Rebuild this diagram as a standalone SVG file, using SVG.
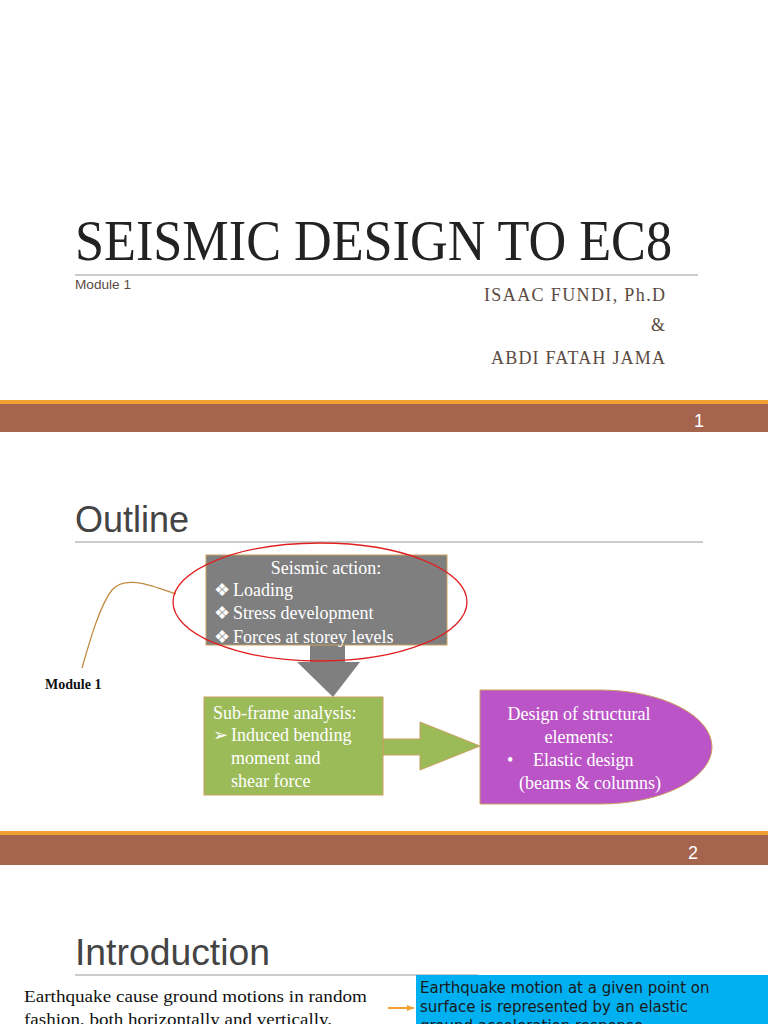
<svg xmlns="http://www.w3.org/2000/svg" width="768" height="1024" viewBox="0 0 768 1024">
<defs>
<style>
.serif{font-family:"Liberation Serif","DejaVu Serif",serif}
.sans{font-family:"Liberation Sans",Arial,sans-serif}
.w{fill:#fff;font-size:18px}
.bar{fill:#a4644e}
.ob{fill:#f0a030}
</style>
<marker id="oa" markerWidth="8" markerHeight="8" refX="7" refY="4" orient="auto" markerUnits="userSpaceOnUse"><path d="M0,1 L7,4 L0,7 Z" fill="#f0a030"/></marker>
</defs>
<rect width="768" height="1024" fill="#fff"/>
<text x="75" y="260" class="serif" font-size="56" fill="#222" textLength="597" lengthAdjust="spacingAndGlyphs">SEISMIC DESIGN TO EC8</text>
<line x1="75" y1="275" x2="698" y2="275" stroke="#999" stroke-width="1.2"/>
<text x="75" y="289" class="sans" font-size="12" fill="#5a4a42" textLength="56" lengthAdjust="spacingAndGlyphs">Module 1</text>
<g class="serif" font-size="18" fill="#5a4a42" text-anchor="end">
<text x="665" y="301" textLength="181" lengthAdjust="spacing">ISAAC FUNDI, Ph.D</text>
<text x="665" y="331">&amp;</text>
<text x="665" y="364" textLength="174" lengthAdjust="spacing">ABDI FATAH JAMA</text>
</g>
<rect x="0" y="400" width="768" height="4" class="ob"/>
<rect x="0" y="404" width="768" height="28" class="bar"/>
<text x="694" y="427" class="sans" font-size="18" fill="#fff">1</text>
<text x="75" y="532" class="sans" font-size="36" fill="#444">Outline</text>
<line x1="75" y1="542" x2="703" y2="542" stroke="#999" stroke-width="1.2"/>
<g id="connectors">
<path d="M310,645 H345 V662 H360 L333,697 L297,662 H310 Z" fill="#7f7f7f"/>
<path d="M383,739 H420 V722 L480,746 L420,770 V755 H383 Z" fill="#9bbb59" stroke="#c9a060" stroke-width="1"/>
<path d="M176,594 C150,585 125,575 112,590 C100,605 90,640 82,668" fill="none" stroke="#c08a40" stroke-width="1.3"/>
<line x1="388" y1="1008" x2="414" y2="1008" stroke="#f0a030" stroke-width="2" marker-end="url(#oa)"/>
</g>
<g id="seismic">
<rect x="206" y="555" width="241" height="90" fill="#7f7f7f" stroke="#c9a060" stroke-width="1"/>
<text x="326" y="574" class="serif w" text-anchor="middle">Seismic action:</text>
<text x="214" y="596" class="serif w" font-size="14">❖</text><text x="233" y="596" class="serif w">Loading</text>
<text x="214" y="619" class="serif w" font-size="14">❖</text><text x="233" y="619" class="serif w">Stress development</text>
<text x="214" y="643" class="serif w" font-size="14">❖</text><text x="233" y="643" class="serif w">Forces at storey levels</text>
</g>
<ellipse cx="320" cy="602" rx="147" ry="59" fill="none" stroke="#e02020" stroke-width="1.3"/>
<text x="45" y="689" class="serif" font-size="14" font-weight="bold" fill="#111">Module 1</text>
<g id="subframe">
<rect x="204" y="697" width="179" height="98" fill="#9bbb59" stroke="#c9a060" stroke-width="1"/>
<text x="213" y="719" class="serif w">Sub-frame analysis:</text>
<text x="213" y="741" class="serif w" font-size="15">➢</text><text x="231" y="741" class="serif w">Induced bending</text>
<text x="231" y="764" class="serif w">moment and</text>
<text x="231" y="787" class="serif w">shear force</text>
</g>
<g id="design">
<path d="M480,690 H600 A112,57 0 0 1 600,804 H480 Z" fill="#bb55c7" stroke="#c9a060" stroke-width="1"/>
<text x="579" y="720" class="serif w" text-anchor="middle">Design of structural</text>
<text x="579" y="743" class="serif w" text-anchor="middle">elements:</text>
<text x="507" y="766" class="serif w">•</text><text x="533" y="766" class="serif w">Elastic design</text>
<text x="590" y="789" class="serif w" text-anchor="middle">(beams &amp; columns)</text>
</g>
<rect x="0" y="831" width="768" height="4" class="ob"/>
<rect x="0" y="835" width="768" height="30" class="bar"/>
<text x="688" y="859" class="sans" font-size="18" fill="#fff">2</text>
<text x="75" y="965" class="sans" font-size="36" fill="#444" textLength="195" lengthAdjust="spacingAndGlyphs">Introduction</text>
<line x1="75" y1="975" x2="478" y2="975" stroke="#999" stroke-width="1.2"/>
<g id="intro-left" class="serif" font-size="17" fill="#111">
<text x="24" y="1002" textLength="343" lengthAdjust="spacingAndGlyphs">Earthquake cause ground motions in random</text>
<text x="24" y="1025" textLength="308" lengthAdjust="spacingAndGlyphs">fashion, both horizontally and vertically.</text>
</g>
<g id="intro-box">
<rect x="416" y="975" width="352" height="49" fill="#00b0f0"/>
<g font-family="DejaVu Sans,sans-serif" font-size="15" fill="#1a1a1a">
<text x="420" y="993">Earthquake motion at a given point on</text>
<text x="420" y="1012">surface is represented by an elastic</text>
<text x="420" y="1031">ground acceleration response</text>
</g>
</g>
</svg>
